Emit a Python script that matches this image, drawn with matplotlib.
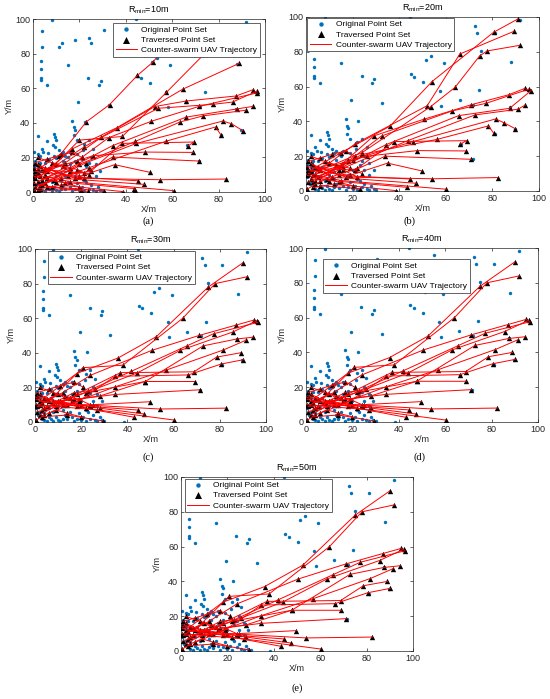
import matplotlib.pyplot as plt

plt.rcParams['font.family'] = ['Liberation Sans', 'DejaVu Sans']
plt.rcParams['mathtext.fontset'] = 'custom'
plt.rcParams['mathtext.rm'] = 'Liberation Sans'

# Original point set (shared by all panels)
orig_x = [8, 44.5, 91.8, 55.2, 72.5, 73.4, 80.9, 3.7, 30.6, 12.6, 11, 18, 24, 25, 3.7, 3.3, 3.5, 3.5,
          3.6, 6, 15.2, 23.9, 29.2, 28.4, 19.3, 46.4, 45, 50.4, 59.2, 51.5, 53.6, 75, 88, 32.6, 58,
          87.5, 74.2, 66, 71.6, 89.5, 81, 66.4, 71.8, 57.5,
          2, 8.9, 9.6, 10, 6, 4, 8.5, 9.5, 11, 13, 16, 17, 17.5, 18, 17.5, 22.5, 22, 21.5, 19, 24, 26,
          0.5, 2, 3, 4.5, 6.5, 1, 0.5, 2, 3, 1, 0.5, 2, 1.5, 3, 4, 5, 7, 8, 9, 10, 11, 12, 13, 14, 15,
          16, 17, 18, 19, 20, 21, 22, 23, 24, 25, 26, 27, 28, 29, 30, 38.5, 6, 8, 10, 12, 14, 16, 18,
          5, 7, 9, 11, 13, 15, 19, 21, 23, 25, 27, 20, 18, 22, 4, 6, 12, 14, 16, 24, 10, 12, 14, 3, 7,
          9, 27, 25, 29]
orig_y = [99.5, 99.8, 98.5, 96, 94.6, 91, 91, 93, 93.5, 86, 84, 88, 88.8, 86, 84, 76, 71, 66,
          65, 62, 73.3, 66, 64.3, 62, 52, 65.7, 67, 62.8, 73.4, 75, 77.6, 80.6, 74, 50.4, 49,
          48, 57.9, 52.3, 18.2, 35.8, 33, 27, 49.6, 57.6,
          32.4, 33.7, 32, 30, 29.5, 25, 27, 26, 24, 23, 23, 41.2, 37.6, 36, 33, 40.4, 28, 24, 30, 30, 25,
          23, 22, 21, 23, 22.5, 18, 15, 14, 12, 10, 8, 6, 4, 2, 1, 0.5, 1.5, 0.5, 3, 1, 0.8, 2, 4, 1.5, 6,
          3, 0.5, 2, 5, 1, 3, 0.5, 6, 2, 4, 1, 0.5, 3, 1, 0.5, 0.2, 8, 6, 9, 11, 14, 16, 18,
          17, 19, 21, 20, 18, 20, 22, 19, 15, 12, 9, 12, 9, 7, 5, 3, 7, 9, 12, 17, 19.5, 22, 21, 17, 14,
          16, 16, 20, 12]

# Short routes inside the dense cluster (same in every panel)
routes_cluster = [
    [(0.5, 1), (4, 4), (9, 7), (14, 5), (20, 3)],
    [(1, 17), (6, 19), (11, 21), (17, 23), (21, 20)],
    [(2, 20), (8, 17), (13, 15), (19, 13), (24, 10)],
    [(0.5, 14), (5, 13), (10, 16), (16, 12), (22, 8)],
]

routes_a = [
    [(2, 13), (12, 22), (23, 40.6), (33, 50.5), (45, 67.4), (51.7, 75.1), (56, 82)],
    [(5, 10), (20, 30), (38.5, 32.1), (57.5, 57.6), (74, 80)],
    [(3, 9), (17, 25), (36.2, 37.2), (64.5, 59.4), (88.9, 74.4)],
    [(6, 12), (22, 26), (52.5, 49.4), (66, 52.6), (87.5, 55.5), (95, 59.2)],
    [(1, 8), (14, 17), (29.5, 31.6), (54, 48.4), (77.7, 50.7), (86, 52), (96.5, 58.3)],
    [(4, 7), (19, 18), (32.6, 31.4), (51, 40.9), (71.6, 49.5), (96.6, 57.3)],
    [(2, 6), (16, 14), (34.3, 26.8), (66, 43.3), (87.8, 48), (94.8, 49.5)],
    [(5, 5), (20, 16), (44, 29.2), (63.4, 40.5), (73.3, 44), (91.8, 47.3)],
    [(3, 4), (23, 17), (44.6, 28.1), (81.8, 41), (85.5, 39.5), (90.5, 35.4)],
    [(1, 3), (24, 14), (57.2, 29.3), (78.7, 37.6), (81, 33)],
    [(6, 8), (25, 12), (38.2, 28.1), (69.5, 28.9), (66.8, 26.6)],
    [(2, 11), (26, 21), (48.1, 23.1), (69.1, 22.9)],
    [(4, 13), (22, 11), (34.3, 20.2), (71.6, 17.9)],
    [(1, 12), (20, 9), (35.2, 15.8), (50.3, 11.4)],
    [(3, 15), (18, 8), (54.9, 7.1), (83, 7.5)],
    [(5, 14), (15, 9), (45.1, 6.5)],
    [(2, 16), (12, 8), (48, 4.4)],
    [(0.5, 9), (10, 6), (43.5, 2), (44, 1.2)],
    [(1, 10), (16, 6), (60.6, 0.8)],
    [(3, 2), (12, 4), (39, 0.2)],
    [(0.5, 5), (8, 3), (30.5, 0.6)],
    [(6, 3), (23.5, 0.4)],
    [(2, 1), (20.8, 1.3)],
]

routes_b = [
    [(2, 12), (15, 22), (36, 37.2), (54, 62.8), (80.5, 91.2), (91, 98.9)],
    [(4, 10), (21, 27), (52, 49), (66, 78.7), (89.3, 91.8)],
    [(6, 12), (24, 22), (53.5, 48.5), (64, 59.6), (74.5, 77.6), (77.8, 80.5), (91.7, 83.7)],
    [(3, 9), (15, 15), (29, 31.6), (50.5, 41.2), (71, 49.6), (87, 55.3), (94, 59)],
    [(5, 8), (18, 17), (32.4, 31.6), (62.7, 46), (77.3, 50.4), (95.8, 58.6)],
    [(2, 7), (16, 14), (34.3, 26.6), (65.5, 43.3), (87.4, 47.5), (96.6, 57.7)],
    [(4, 6), (14, 12), (43.8, 29), (72.5, 43.7), (91, 47), (94.1, 49.4)],
    [(1, 5), (20, 18), (46, 28.4), (81.4, 41.4), (84.8, 39.3), (89.8, 35.8)],
    [(3, 5), (24, 21), (56.4, 29.7), (78.3, 37.4), (80.5, 33.3)],
    [(6, 6), (22, 13), (37.9, 28.4), (69, 28.9), (66.2, 27)],
    [(2, 11), (26, 20), (47.8, 23.2), (68.7, 23)],
    [(4, 13), (21, 12), (34, 20), (71, 18.2)],
    [(1, 12), (19, 9), (35, 16), (49.8, 11.5)],
    [(3, 15), (17, 8), (54, 7), (82.3, 7.7)],
    [(5, 14), (14, 9), (44.5, 6.9)],
    [(2, 16), (11, 8), (47.4, 4.4)],
    [(0.5, 9), (10, 6), (43.3, 2.1)],
    [(1, 10), (15, 6), (60.2, 1)],
    [(3, 2), (12, 4), (38.5, 0.2)],
    [(6, 3), (23.2, 1.3)],
]

routes_cde = [
    [(4, 14), (18, 28), (36, 37), (52.6, 49.4), (75, 78), (90, 92)],
    [(6, 12), (20.7, 31.4), (38, 32.8), (64, 60), (78, 80), (92, 84)],
    [(2, 10), (12, 17), (24, 27), (50.6, 41.4), (71, 50), (87, 56), (95, 59)],
    [(5, 9), (15, 14), (26, 19), (44, 28.2), (62.9, 41.4), (85.6, 52), (96, 58.5)],
    [(8, 11), (17, 17), (23, 18), (41.7, 29.3), (65.6, 43.9), (77.3, 51), (96.5, 57.6)],
    [(3, 7), (11, 12), (28, 15), (47.7, 23.4), (72.8, 44), (87.4, 48), (94.5, 49)],
    [(1, 6), (14, 10), (34.6, 20.3), (56.8, 30), (81.5, 41.6), (91.4, 47.3)],
    [(2, 4), (18, 16), (37, 28.5), (68.8, 29), (78.6, 37.5), (89, 40)],
    [(6, 5), (19, 12), (34.6, 26.4), (66.4, 27.2), (80.6, 33.5), (90.2, 36)],
    [(4, 8), (22, 17), (47.7, 23.4), (69.1, 23.4)],
    [(3, 11), (17, 13), (34.6, 15.9), (71.3, 18.6)],
    [(1, 9), (25, 10), (49.7, 11.7)],
    [(2, 12), (20, 10), (54, 7.5), (82.5, 8)],
    [(0.5, 13), (12, 10), (24, 9), (44.5, 6.9)],
    [(1, 15), (10, 12), (28, 8), (47.3, 4.6)],
    [(2, 16), (8, 12), (18, 9), (43, 2.7)],
    [(0.5, 10), (9, 9), (27, 7), (60.3, 1.1)],
    [(3, 3), (14, 4), (29.5, 0.6)],
]

titles = ['10', '20', '30', '40', '50']
captions = ['(a)', '(b)', '(c)', '(d)', '(e)']
panel_routes = [routes_a, routes_b, routes_cde, routes_cde, routes_cde]

# layout (figure fractions) and legend anchors (axes fractions)
rects = [[0.060, 0.7253, 0.4218, 0.2475],
         [0.5564, 0.7268, 0.4236, 0.2489],
         [0.0636, 0.3963, 0.4200, 0.2475],
         [0.5564, 0.3963, 0.4218, 0.2489],
         [0.3291, 0.0687, 0.4218, 0.2489]]
leg_anchor = [(0.345, 0.975), (0.005, 0.995), (0.055, 0.99), (0.072, 0.935), (0.017, 0.99)]
cap_xy = [(148, 221), (410, 221), (148, 457), (420, 457), (297, 688)]

W, H = 550, 699
fig = plt.figure(figsize=(5.5, 6.99), dpi=100)
edge = '#262626'

for k in range(5):
    ax = fig.add_axes(rects[k])
    routes = panel_routes[k] + routes_cluster
    ax.scatter(orig_x, orig_y, s=6, color='#0072BD', linewidths=0,
               label='Original Point Set', zorder=2)
    tx = [p[0] for r in routes for p in r]
    ty = [p[1] for r in routes for p in r]
    ax.scatter(tx, ty, marker='^', s=15, color='black', linewidths=0,
               label='Traversed Point Set', zorder=3)
    for i, r in enumerate(routes):
        xs = [p[0] for p in r]
        ys = [p[1] for p in r]
        ax.plot(xs, ys, color='red', lw=0.7, zorder=4,
                label='Counter-swarm UAV Trajectory' if i == 0 else None)

    ax.set_xlim(0, 100)
    ax.set_ylim(0, 100)
    ax.set_xticks(range(0, 101, 20))
    ax.set_yticks(range(0, 101, 20))
    ax.tick_params(direction='in', length=2, width=0.5, labelsize=6.5,
                   colors=edge, top=True, right=True, pad=2)
    for s in ax.spines.values():
        s.set_linewidth(0.5)
        s.set_color(edge)
    ax.set_xlabel('X/m', fontsize=6.5, labelpad=1, color=edge)
    ax.set_ylabel('Y/m', fontsize=6.5, labelpad=1, color=edge)
    ax.set_title(r'R$_\mathrm{min}$=' + titles[k] + 'm', fontsize=6.5, pad=5, color='black')

    leg = ax.legend(loc='upper left', bbox_to_anchor=leg_anchor[k], borderaxespad=0,
                    fontsize=6, fancybox=False, framealpha=1, edgecolor=edge,
                    handlelength=2.6, labelspacing=0.3, borderpad=0.3,
                    handletextpad=0.5, markerscale=1.3)
    leg.get_frame().set_linewidth(0.5)
    leg.set_zorder(10)

    cx, cy = cap_xy[k]
    fig.text(cx / W, 1 - cy / H, captions[k], family='Liberation Serif',
             fontsize=7.5, ha='center', va='center')

fig.savefig('out.png', dpi=100)
